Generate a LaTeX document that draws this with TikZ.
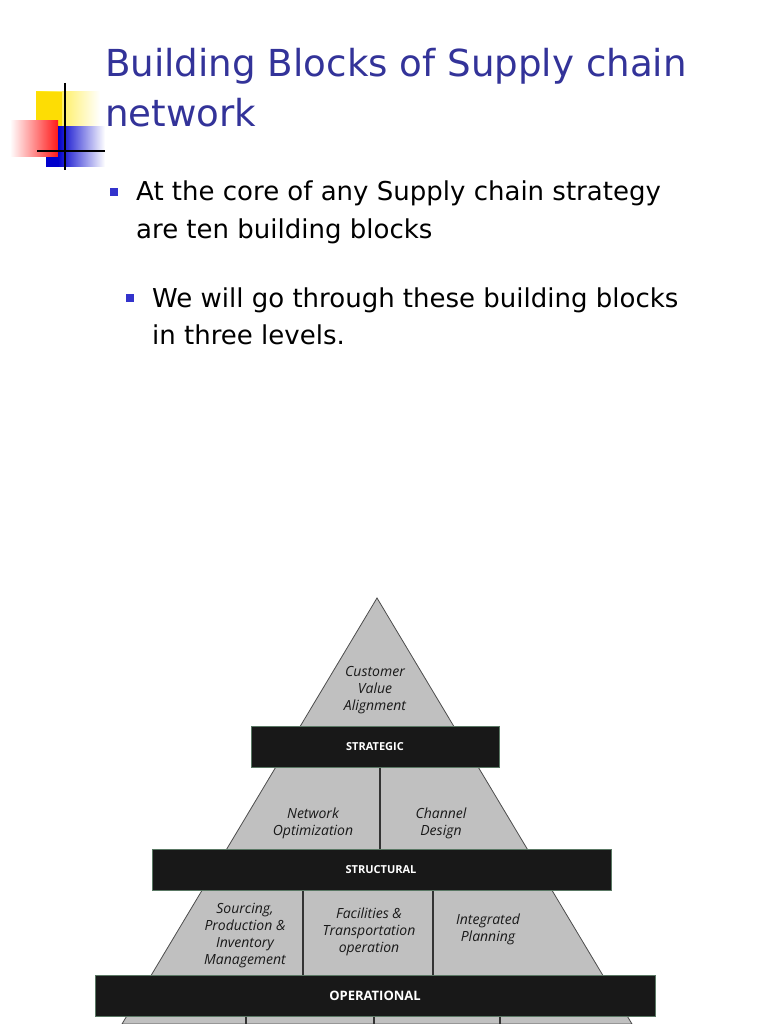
\documentclass[tikz,border=0pt]{standalone}
\usepackage{fontspec}
\setmainfont{DejaVu Sans}
\newfontfamily\lab{Open Sans}
\definecolor{navy}{RGB}{51,51,153}
\definecolor{bullet}{RGB}{51,51,204}
\definecolor{pyr}{RGB}{192,192,192}
\definecolor{barc}{RGB}{24,24,24}
\definecolor{bord}{RGB}{90,120,100}
\begin{document}
\begin{tikzpicture}[x=1pt,y=-1pt,
  title/.style={anchor=base west,text=navy,font=\fontsize{37.2}{44}\selectfont,inner sep=0},
  body/.style={anchor=base west,text=black,font=\fontsize{26}{37}\selectfont,inner sep=0},
  bar/.style={fill=barc,draw=bord,line width=0.8pt},
  bartext/.style={text=white,font=\lab\bfseries\fontsize{11}{13}\selectfont},
  plab/.style={text=black!90,font=\lab\itshape\fontsize{14}{17}\selectfont,align=center}]
\useasboundingbox (0,0) rectangle (768,1024);
% decoration
\shade[left color=yellow!80!orange,right color=white] (36,92) rectangle (100,136);
\fill[yellow!80!orange] (36,92) rectangle (62,136);
\shade[left color=white,right color=red!90] (10,121) rectangle (58,157);
\shade[left color=blue!80!black,right color=white] (58,127) rectangle (105,167);
\fill[blue!80!black] (46,157) rectangle (58,167);
\coordinate (v1) at (65,83); \coordinate (v2) at (65,170);
\coordinate (h1) at (37,151); \coordinate (h2) at (105,151);
\draw[line width=1.3pt] (v1) -- (v2);
\draw[line width=1.3pt] (h1) -- (h2);
% title
\node[title] (t1) at (105,77) {Building Blocks of Supply chain};
\node[title] (t2) at (105,127) {network};
% bullets
\fill[bullet] (110,188) rectangle (118,196);
\node[body] (b1) at (136,201) {At the core of any Supply chain strategy};
\node[body] (b1b) at (136,238) {are ten building blocks};
\fill[bullet] (126,294) rectangle (134,302);
\node[body] (b2) at (152,307) {We will go through these building blocks};
\node[body] (b2b) at (152,344) {in three levels.};
% pyramid
\fill[pyr,draw=black!70,line width=0.8pt] (377,598) -- (122,1024) -- (632,1024) -- cycle;
\draw[black!80,line width=1.2pt] (380,767) -- (380,849);
\draw[black!80,line width=1.2pt] (303,890) -- (303,975);
\draw[black!80,line width=1.2pt] (433,890) -- (433,975);
\draw[black!80,line width=1.2pt] (246,1016) -- (246,1024);
\draw[black!80,line width=1.2pt] (374,1016) -- (374,1024);
\draw[black!80,line width=1.2pt] (500,1016) -- (500,1024);
\draw[bar] (251,726) rectangle (499,767);
\node[bartext] (s) at (375,746.5) {STRATEGIC};
\draw[bar] (152,849) rectangle (611,890);
\node[bartext] (st) at (381,869.5) {STRUCTURAL};
\draw[bar] (95,975) rectangle (655,1016);
\node[bartext,font=\lab\bfseries\fontsize{13}{15}\selectfont] (op) at (375,995.5) {OPERATIONAL};
\node[plab] (c) at (375,690) {Customer\\Value\\Alignment};
\node[plab] (n) at (313,823) {Network\\Optimization};
\node[plab] (ch) at (441,823) {Channel\\Design};
\node[plab] (sp) at (245,936) {Sourcing,\\Production \&\\Inventory\\Management};
\node[plab] (f) at (369,932) {Facilities \&\\Transportation\\operation};
\node[plab] (ip) at (488,929) {Integrated\\Planning};
\end{tikzpicture}
\end{document}
